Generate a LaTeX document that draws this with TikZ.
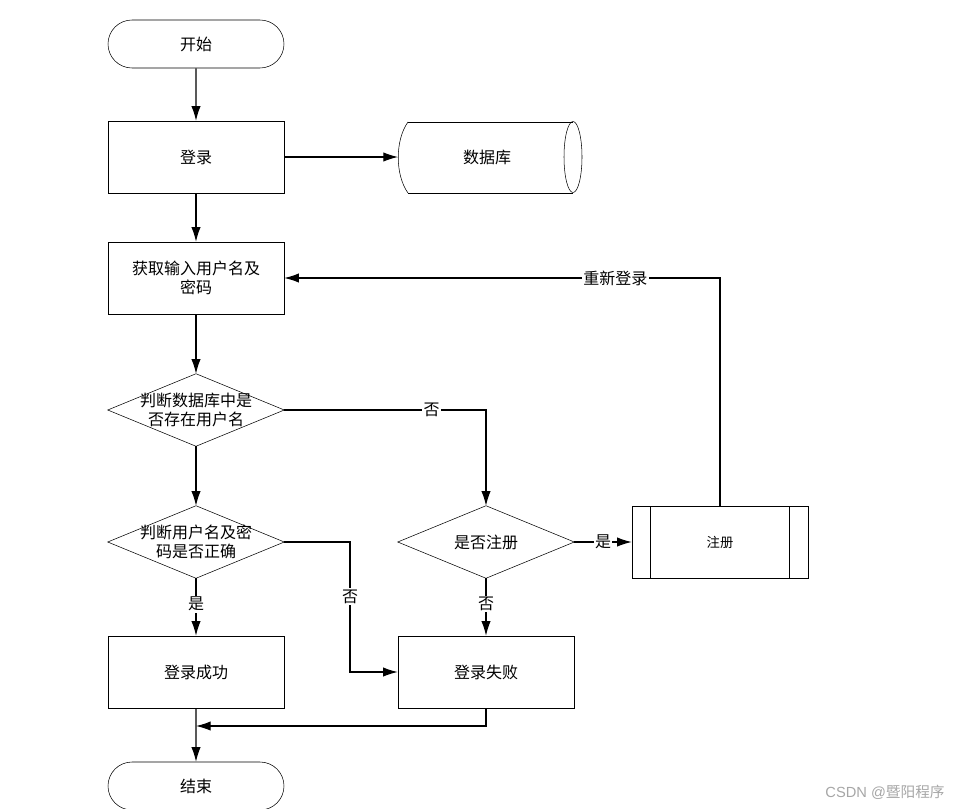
\documentclass[tikz,border=0pt]{standalone}
\usepackage{fontspec}
\setmainfont{Liberation Serif}
\newfontfamily\cjk{Noto Sans CJK SC}
\usetikzlibrary{arrows.meta,shapes.geometric,shapes.misc}
\begin{document}
\begin{tikzpicture}[x=0.75pt,y=-0.75pt,
  every node/.style={font=\cjk\fontsize{12}{14}\selectfont,align=center},
  box/.style={draw,minimum width=132pt,minimum height=54pt,inner sep=0pt},
  term/.style={draw,rounded rectangle,minimum width=132pt,minimum height=36pt,inner sep=0pt},
  dia/.style={minimum width=132pt,minimum height=54pt,inner sep=0pt},
  arr/.style={-{Latex[length=11pt,width=7pt]},line width=0.8pt},
  lab/.style={fill=white,inner sep=1pt}]
\useasboundingbox (0,0) rectangle (963,809);
\node[term] (start) at (196,44) {开始};
\node[box] (login) at (196,157) {登录};
\node[box] (get) at (196,278) {获取输入用户名及\\密码};
\node[dia] (d1) at (196,410) {判断数据库中是\\否存在用户名};
\node[dia] (d2) at (196,542) {判断用户名及密\\码是否正确};
\node[box] (ok) at (196,672) {登录成功};
\node[term] (end) at (196,786) {结束};
\node[dia] (d3) at (486,542) {是否注册};
\node[box] (fail) at (486,672) {登录失败};
\foreach \d in {d1,d2,d3} \draw (\d.west) -- (\d.north) -- (\d.east) -- (\d.south) -- cycle;
\node[box] (reg) at (720,542) {};
\node[font=\cjk\fontsize{10}{12}\selectfont] at (720,542) {注册};
\draw (650,506) -- (650,578) (789,506) -- (789,578);
% database
\coordinate (db) at (398,157);
\draw (408,122) -- (573,122) (408,193) -- (573,193);
\draw (408,122) .. controls (395,140) and (395,175) .. (408,193);
\draw (573,157) ellipse [x radius=9,y radius=35.5];
\node (dbt) at (487,157) {数据库};
\draw[arr] (start) -- (login);
\draw[arr] (login.east) -- (db);
\draw[arr] (login) -- (get);
\draw[arr] (get) -- (d1);
\draw[arr] (d1) -- (d2);
\draw[arr] (d2) -- node[lab,pos=0.45]{是} (ok);
\draw[arr] (ok) -- (end);
\draw[arr] (d1.east) -- node[lab,pos=0.73]{否} (486,410) -- (d3.north);
\draw[arr] (d2.east) -- (350,542) -- node[lab,pos=0.42]{否} (350,672) -- (fail.west);
\draw[arr] (d3.east) -- node[lab,pos=0.5]{是} (reg.west);
\draw[arr] (d3) -- node[lab,pos=0.45]{否} (fail);
\draw[arr] (reg.north) -- (720,278) -- node[lab,pos=0.24]{重新登录} (get.east);
\draw[arr] (fail.south) -- (486,726) -- (196,726);
\node[text=gray!70,font=\fontspec{Liberation Sans}\fontsize{11}{13}\selectfont] at (885,792) {CSDN @{\cjk 暨阳程序}};
\end{tikzpicture}
\end{document}
